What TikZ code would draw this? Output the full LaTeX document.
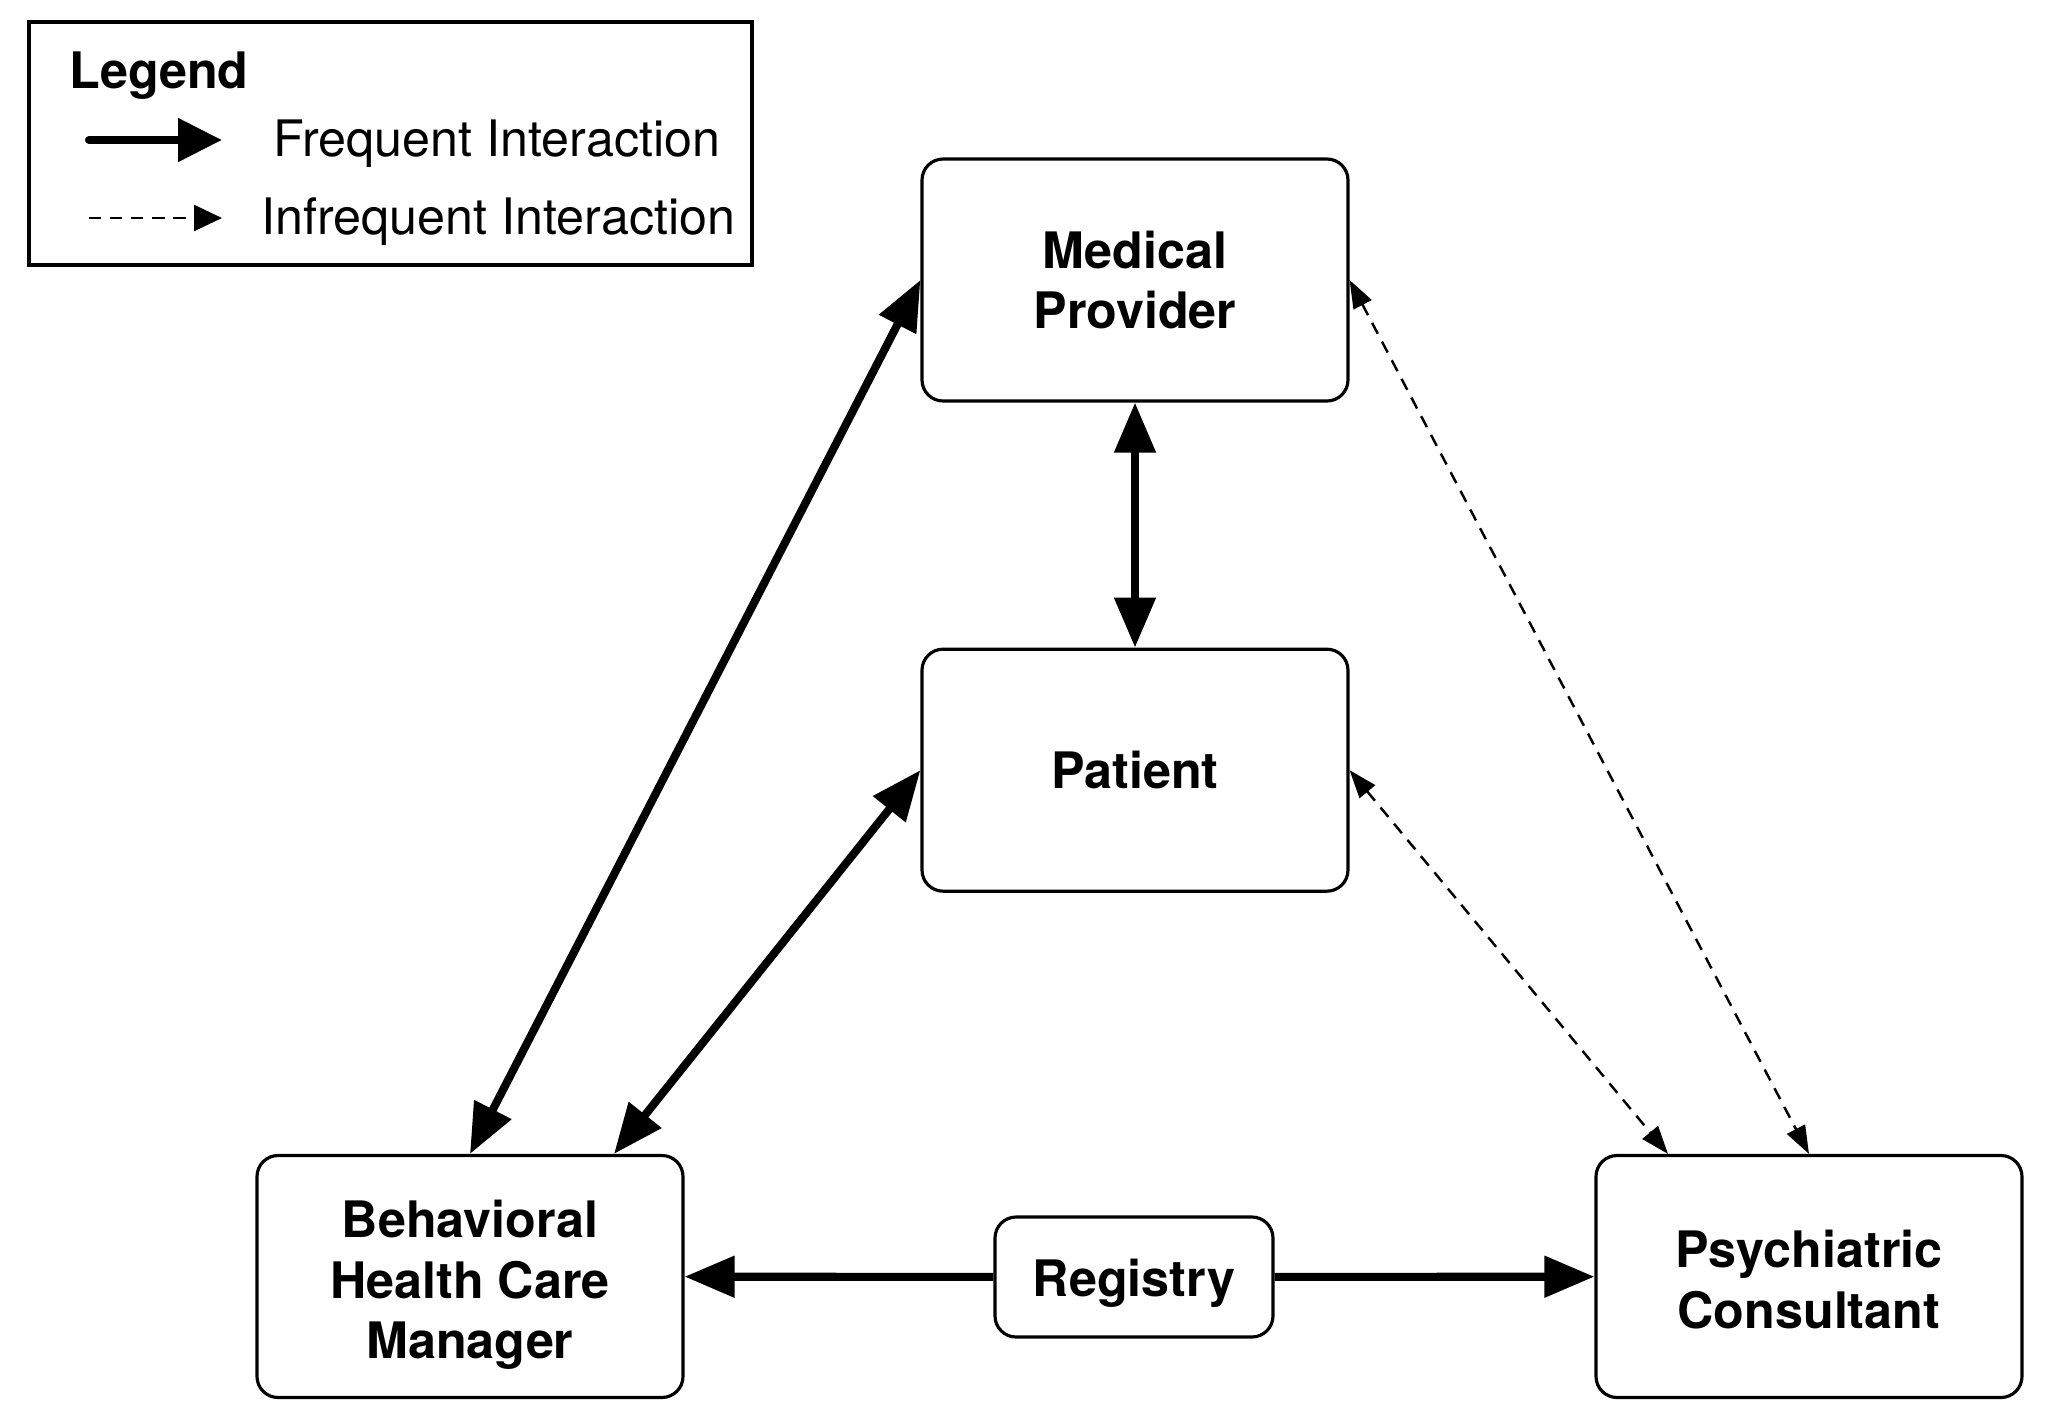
\documentclass[tikz,border=0pt]{standalone}
\usepackage{fontspec}
\setmainfont{TeX Gyre Heros}
\usepackage{tikz}
\usetikzlibrary{arrows.meta, positioning}

\begin{document}
\begin{tikzpicture}[
  font=\fontsize{14.3}{17.3}\selectfont,
  role/.style={draw, line width=0.9pt, rounded corners=6pt, align=center,
               font=\fontsize{14.3}{17.3}\selectfont\bfseries,
               minimum width=4.26cm, minimum height=2.42cm, inner sep=2pt},
  regbox/.style={role, minimum width=2.78cm, minimum height=1.2cm},
  legendbox/.style={draw, line width=1pt, minimum width=7.23cm, minimum height=2.43cm},
  freq/.style={line width=2.3pt, {Triangle[length=5mm,width=4mm]}-{Triangle[length=5mm,width=4mm]}},
  infreq/.style={line width=0.7pt, dash pattern=on 3.5pt off 2.5pt,
                 {Triangle[length=2.8mm,width=2mm]}-{Triangle[length=2.8mm,width=2mm]}},
]
  \useasboundingbox (0,0) rectangle (20.48,-14.25);

  % legend
  \node[legendbox] (legend) at (3.905,-1.435) {};
  \node[anchor=west, font=\fontsize{14.3}{17.3}\selectfont\bfseries] (legtitle) at (0.57,-0.76) {Legend};
  \coordinate (fa) at (0.89,-1.40);
  \coordinate (fb) at (2.22,-1.40);
  \coordinate (ia) at (0.89,-2.18);
  \coordinate (ib) at (2.22,-2.18);
  \draw[line width=2.3pt, line cap=round, -{Triangle[length=4.4mm,width=4.2mm]}] (fa) -- (fb);
  \draw[line width=0.7pt, dash pattern=on 3.5pt off 2.5pt, -{Triangle[length=2.8mm,width=2.6mm]}] (ia) -- (ib);
  \node[anchor=west] (freqtext) at (2.61,-1.44) {Frequent Interaction};
  \node[anchor=west] (infreqtext) at (2.49,-2.22) {Infrequent Interaction};

  % care team
  \node[role] (provider) at (11.35,-2.80) {Medical\\Provider};
  \node[role, below=2.45cm of provider] (patient) {Patient};
  \node[role, text height=50pt] (manager) at (4.70,-12.765) {Behavioral\\Health Care\\Manager};
  \node[role, text height=29.9pt] (consultant) at (18.09,-12.765) {Psychiatric\\Consultant};
  \node[regbox, text height=14pt] (registry) at (11.34,-12.77) {Registry};

  % frequent interaction
  \draw[freq] (provider) -- (patient);
  \draw[freq] (manager.north) -- (provider.west);
  \draw[freq] ([xshift=14.4mm]manager.north) -- (patient.west);
  \draw[line width=2.3pt, -{Triangle[length=5mm,width=4mm]}] (registry) -- (manager);
  \draw[line width=2.3pt, -{Triangle[length=5mm,width=4mm]}] (registry) -- (consultant);

  % infrequent interaction
  \draw[infreq] (provider.east) -- (consultant.north);
  \draw[infreq] (patient.east) -- ([xshift=-14.1mm]consultant.north);
\end{tikzpicture}
\end{document}
